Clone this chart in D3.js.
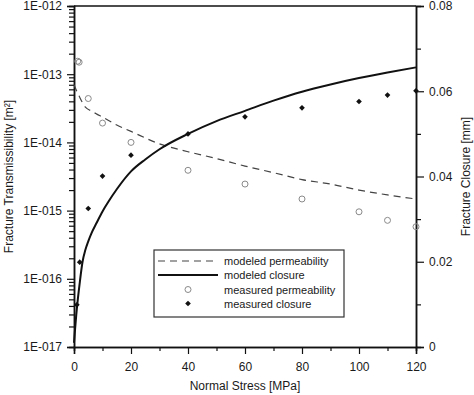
<!DOCTYPE html>
<html><head><meta charset="utf-8">
<script src="https://cdn.jsdelivr.net/npm/d3@7"></script>
<style>
body{margin:0;background:#fff;}
svg text{font-family:"Liberation Sans",Arial,sans-serif;fill:#1a1a1a;}
</style></head>
<body><svg id="c" width="474" height="395"></svg>
<script>
// modeled permeability (dashed, left log axis)
const modelPermX = [0,1,2,3,4,6,8,10,15,20,30,40,50,60,70,80,90,100,110,120];
const modelPermY = [7.0e-14,5.6e-14,4.6e-14,3.8e-14,3.3e-14,2.9e-14,2.6e-14,2.35e-14,1.8e-14,1.45e-14,9.5e-15,7.3e-15,5.8e-15,4.5e-15,3.6e-15,2.85e-15,2.45e-15,2.0e-15,1.7e-15,1.48e-15];
// modeled closure (solid, right axis, mm)
const modelCloseX = [0,1,2,3,4,5,6,8,10,12,15,20,25,30,40,50,60,70,80,90,100,110,120];
const modelCloseY = [0.001,0.009,0.015,0.020,0.0228,0.0248,0.0265,0.0292,0.0318,0.0340,0.0370,0.0412,0.0440,0.0464,0.0500,0.0530,0.0554,0.0578,0.0599,0.0616,0.0631,0.0644,0.0656];
// measured permeability (open circles)
const measPermX = [1.3,1.8,5,10,20,40,60,80,100,110,120];
const measPermY = [1.55e-13,1.5e-13,4.4e-14,1.92e-14,1.0e-14,3.9e-15,2.45e-15,1.48e-15,9.6e-16,7.2e-16,5.8e-16];
// measured closure (filled diamonds)
const measCloseX = [1,2,5,10,20,40,60,80,100,110,120];
const measCloseY = [0.0099,0.0199,0.0325,0.0401,0.0450,0.0500,0.0540,0.0561,0.0576,0.0591,0.0601];
// ticks
const xTicks = [0,20,40,60,80,100,120];
const xMinor = [10,30,50,70,90,110];
const yLeftTicks = [1e-17,1e-16,1e-15,1e-14,1e-13,1e-12];
const yLeftLabels = ["1E-017","1E-016","1E-015","1E-014","1E-013","1E-012"];
const yRightTicks = [0,0.02,0.04,0.06,0.08];
const yRightMinor = [0.01,0.03,0.05,0.07];
const legendLabels = ["modeled permeability","modeled closure","measured permeability","measured closure"];

const svg = d3.select("#c");
const L=74, R=416, T=6, B=347;
const x = d3.scaleLinear().domain([0,120]).range([L,R]);
const yL = d3.scaleLog().domain([1e-17,1e-12]).range([B,T]);
const yR = d3.scaleLinear().domain([0,0.08]).range([B,T]);

svg.append("line").attr("x1",L).attr("x2",R).attr("y1",T).attr("y2",T).attr("stroke","#111").attr("stroke-width",1.5);

const leftMinor=[];
for(let e=-17;e<-12;e++){for(let k=2;k<=9;k++)leftMinor.push(k*Math.pow(10,e));}

function styleAxis(g){g.select(".domain").attr("stroke","#111").attr("stroke-width",1.5);g.selectAll(".tick line").attr("stroke","#111").attr("stroke-width",1.2);g.selectAll("text").attr("font-size",12).style("font-family","Liberation Sans, Arial, sans-serif").attr("fill","#1a1a1a");}

svg.append("g").attr("transform",`translate(0,${B})`).call(d3.axisBottom(x).tickValues(xMinor).tickSize(4).tickFormat("")).call(styleAxis);
svg.append("g").attr("transform",`translate(0,${B})`).call(d3.axisBottom(x).tickValues(xTicks).tickSize(7).tickPadding(8).tickFormat(d3.format("d"))).call(styleAxis);
svg.append("g").attr("transform",`translate(${L},0)`).call(d3.axisLeft(yL).tickValues(leftMinor).tickSize(5).tickFormat("")).call(styleAxis);
svg.append("g").attr("transform",`translate(${L},0)`).call(d3.axisLeft(yL).tickValues(yLeftTicks).tickSize(7).tickPadding(5).tickFormat((d,i)=>yLeftLabels[i])).call(styleAxis);
svg.append("g").attr("transform",`translate(${R},0)`).call(d3.axisRight(yR).tickValues(yRightMinor).tickSize(5).tickFormat("")).call(styleAxis);
svg.append("g").attr("transform",`translate(${R},0)`).call(d3.axisRight(yR).tickValues(yRightTicks).tickSize(8).tickPadding(5).tickFormat(d=>d===0?"0":d3.format(".2f")(d))).call(styleAxis);

svg.append("text").attr("x",(L+R)/2).attr("y",390).attr("text-anchor","middle").attr("font-size",12).text("Normal Stress [MPa]");
svg.append("text").attr("transform",`translate(13,${(T+B)/2}) rotate(-90)`).attr("text-anchor","middle").attr("font-size",12).text("Fracture Transmissibility [m²]");
svg.append("text").attr("transform",`translate(470,${(T+B)/2}) rotate(-90)`).attr("text-anchor","middle").attr("font-size",12).text("Fracture Closure [mm]");

const permData = modelPermX.map((v,i)=>[v,modelPermY[i]]);
const closeData = modelCloseX.map((v,i)=>[v,modelCloseY[i]]);
svg.append("path").datum(permData).attr("fill","none").attr("stroke","#444").attr("stroke-width",1.2).attr("stroke-dasharray","7,5")
  .attr("d",d3.line().x(d=>x(d[0])).y(d=>yL(d[1])).curve(d3.curveMonotoneX));
svg.append("path").datum(closeData).attr("fill","none").attr("stroke","#111").attr("stroke-width",2)
  .attr("d",d3.line().x(d=>x(d[0])).y(d=>yR(d[1])).curve(d3.curveMonotoneX));

svg.append("g").selectAll("circle").data(measPermX.map((v,i)=>[v,measPermY[i]])).join("circle")
  .attr("cx",d=>x(d[0])).attr("cy",d=>yL(d[1])).attr("r",3).attr("fill","none").attr("stroke","#8a8a8a").attr("stroke-width",1);
const diamond = d3.symbol().type(d3.symbolSquare).size(16);
svg.append("g").selectAll("path").data(measCloseX.map((v,i)=>[v,measCloseY[i]])).join("path")
  .attr("transform",d=>`translate(${x(d[0])},${yR(d[1])}) rotate(45)`).attr("d",diamond).attr("fill","#111");

const lg = svg.append("g");
lg.append("rect").attr("x",154).attr("y",250).attr("width",190).attr("height",67).attr("fill","#fff").attr("stroke","#333").attr("stroke-width",1.2);
const rows=[261,275,289.5,303.5];
lg.append("line").attr("x1",158).attr("x2",218).attr("y1",rows[0]).attr("y2",rows[0]).attr("stroke","#444").attr("stroke-width",1.2).attr("stroke-dasharray","7,5");
lg.append("line").attr("x1",158).attr("x2",218).attr("y1",rows[1]).attr("y2",rows[1]).attr("stroke","#111").attr("stroke-width",2);
lg.append("circle").attr("cx",188).attr("cy",rows[2]).attr("r",3).attr("fill","none").attr("stroke","#8a8a8a");
lg.append("path").attr("transform",`translate(188,${rows[3]}) rotate(45)`).attr("d",diamond).attr("fill","#111");
lg.selectAll("text.l").data(legendLabels).join("text").attr("class","l").attr("x",224).attr("y",(d,i)=>rows[i]+4).attr("font-size",11).text(d=>d);
</script></body></html>
